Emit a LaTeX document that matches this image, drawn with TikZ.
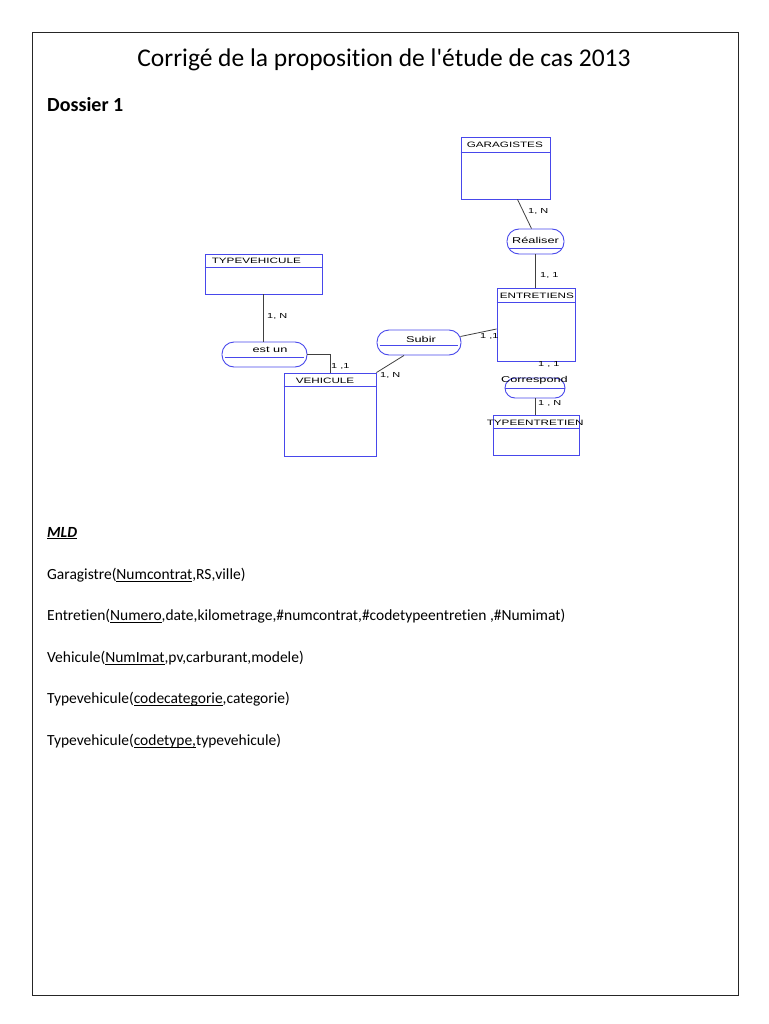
\documentclass[tikz,border=0pt]{standalone}
\usepackage{fontspec}
\setmainfont{Carlito}[Ligatures={TeXOff,NoCommon}]
\newfontfamily\diag[FakeStretch=1.5]{Liberation Sans}
\usetikzlibrary{calc}
\definecolor{eblue}{RGB}{72,72,235}
\newcommand\ulk[1]{\underline{\raisebox{0pt}[\height][0pt]{#1}}}
\begin{document}
\begin{tikzpicture}[x=1pt,y=-1pt,
  ent/.style={draw=eblue, line width=0.9pt, rectangle, inner sep=0pt},
  rel/.style={draw=eblue, line width=0.9pt, rectangle, rounded corners=12pt, inner sep=0pt},
  elbl/.style={font=\diag\fontsize{7.8}{8}\selectfont, inner sep=0pt, anchor=west},
  rlbl/.style={font=\diag\fontsize{8.5}{9}\selectfont, inner sep=0pt},
  card/.style={font=\diag\fontsize{7.3}{8}\selectfont, inner sep=0pt, anchor=west},
  hdr/.style={draw=eblue, line width=0.9pt},
  lnk/.style={draw=black!75, line width=0.8pt},
  body/.style={font=\fontsize{15.5}{18}\selectfont, anchor=west, inner sep=0pt}]
\useasboundingbox (0,0) rectangle (768,1024);
\draw[black!85, line width=0.8pt] (32,32) rectangle (738,995);

% titles
\node[font=\fontsize{25.5}{30}\selectfont, inner sep=0pt] (title) at (384,60) {Corrigé de la proposition de l'étude de cas 2013};
\node[font=\bfseries\fontsize{20}{24}\selectfont, anchor=west, inner sep=0pt] (dossier) at (47,105) {Dossier 1};

% entities
\node[ent, minimum width=89pt, minimum height=62pt] (gar) at (505.5,168) {};
\node[ent, minimum width=117pt, minimum height=40pt] (tv) at (263.5,274) {};
\node[ent, minimum width=78pt, minimum height=73pt] (entr) at (536,324.5) {};
\node[ent, minimum width=92pt, minimum height=83pt] (veh) at (330,414.5) {};
\node[ent, minimum width=86pt, minimum height=40pt] (te) at (536,435) {};

\draw[hdr] ($(gar.north west)+(0,16)$) -- ($(gar.north east)+(0,16)$);
\draw[hdr] ($(tv.north west)+(0,14)$) -- ($(tv.north east)+(0,14)$);
\draw[hdr] ($(entr.north west)+(0,15)$) -- ($(entr.north east)+(0,15)$);
\draw[hdr] ($(veh.north west)+(0,14)$) -- ($(veh.north east)+(0,14)$);
\draw[hdr] ($(te.north west)+(0,14)$) -- ($(te.north east)+(0,14)$);

\node[elbl] (garT) at ($(gar.north west)+(6,8)$) {GARAGISTES};
\node[elbl] (tvT) at ($(tv.north west)+(7,7.5)$) {TYPEVEHICULE};
\node[elbl] (entrT) at ($(entr.north west)+(3,8)$) {ENTRETIENS};
\node[elbl] (vehT) at ($(veh.north west)+(12,8)$) {VEHICULE};
\node[elbl] (teT) at ($(te.north west)+(-6,8)$) {TYPEENTRETIEN};

% relations
\node[rel, minimum width=57pt, minimum height=25pt] (real) at (535.5,241.5) {};
\node[rel, minimum width=85pt, minimum height=25pt] (estun) at (264.5,354.5) {};
\node[rel, minimum width=84pt, minimum height=25pt] (subir) at (419,342.5) {};
\node[rel, minimum width=60pt, minimum height=20pt, rounded corners=10pt] (corr) at (535,388) {};

\draw[hdr] ($(real.south west)+(2.5,-6)$) -- ($(real.south east)+(-2.5,-6)$);
\draw[hdr] ($(estun.south west)+(3,-10)$) -- ($(estun.south east)+(-3,-10)$);
\draw[hdr] ($(subir.south west)+(3,-10)$) -- ($(subir.south east)+(-3,-10)$);
\draw[hdr] ($(corr.south west)+(0.5,-10)$) -- ($(corr.south east)+(-0.5,-10)$);

\node[rlbl] (realT) at (535.5,240) {Réaliser};
\node[rlbl] (estunT) at (270,350) {est un};
\node[rlbl] (subirT) at (421,339) {Subir};
\node[rlbl] (corrT) at (534.5,380) {Correspond};

% connectors
\draw[lnk] ($(gar.south)+(12,0)$) -- ($(real.north)+(-4,0)$);
\draw[lnk] (real.south) -- (real.south |- entr.north);
\draw[lnk] (tv.south) -- (tv.south |- estun.north);
\draw[lnk] (estun.east) -| (veh.north);
\draw[lnk] ($(subir.south)+(-15,0)$) -- (veh.north east);
\draw[lnk] ($(subir.east)+(-1,-6)$) -- ($(entr.west)+(0,4.5)$);
\draw[lnk] ($(entr.south)+(-1,0)$) -- ($(entr.south)+(-1,0)$ |- corr.north);
\draw[lnk] (corr.south) -- (corr.south |- te.north);

% cardinalities
\node[card] (c1) at (528,211) {1, N};
\node[card] (c2) at (540,275) {1, 1};
\node[card] (c3) at (267,316) {1, N};
\node[card] (c4) at (331,366) {1 ,1};
\node[card] (c5) at (380,375) {1, N};
\node[card] (c6) at (480,336) {1 ,1};
\node[card] (c7) at (538,364) {1 , 1};
\node[card] (c8) at (538,403) {1 , N};

% MLD
\node[body, font=\bfseries\itshape\fontsize{15.5}{18}\selectfont] (mld) at (47,533) {\ulk{MLD}};
\node[body] (l1) at (47,575) {Garagistre(\ulk{Numcontrat},RS,ville)};
\node[body] (l2) at (47,616) {Entretien(\ulk{Numero},date,kilometrage,\#numcontrat,\#codetypeentretien ,\#Numimat)};
\node[body] (l3) at (47,658) {Vehicule(\ulk{NumImat},pv,carburant,modele)};
\node[body] (l4) at (47,699) {Typevehicule(\ulk{codecategorie},categorie)};
\node[body] (l5) at (47,741) {Typevehicule(\ulk{codetype,}typevehicule)};
\end{tikzpicture}
\end{document}
